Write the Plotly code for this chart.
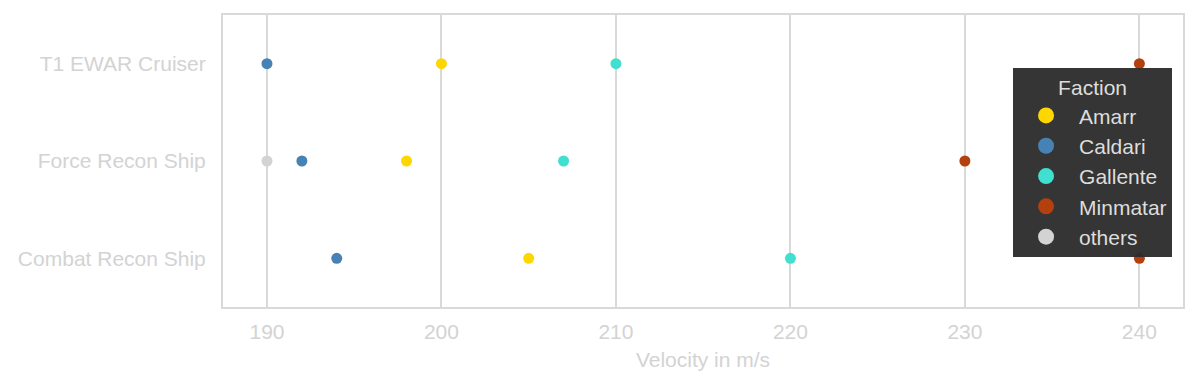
import plotly.graph_objects as go

categories = ["Combat Recon Ship", "Force Recon Ship", "T1 EWAR Cruiser"]
factions = ["Amarr", "Caldari", "Gallente", "Minmatar", "others"]
colors = ["#FFD700", "#4682B4", "#40E0D0", "#B5400F", "#D3D3D3"]

# velocity per faction: list of (ship class, velocity)
amarr_ships = ["T1 EWAR Cruiser", "Force Recon Ship", "Combat Recon Ship"]
amarr_vel = [200, 198, 205]
caldari_ships = ["T1 EWAR Cruiser", "Force Recon Ship", "Combat Recon Ship"]
caldari_vel = [190, 192, 194]
gallente_ships = ["T1 EWAR Cruiser", "Force Recon Ship", "Combat Recon Ship"]
gallente_vel = [210, 207, 220]
minmatar_ships = ["T1 EWAR Cruiser", "Force Recon Ship", "Combat Recon Ship"]
minmatar_vel = [240, 230, 240]
others_ships = ["Force Recon Ship"]
others_vel = [190]

series = [
    (amarr_ships, amarr_vel),
    (caldari_ships, caldari_vel),
    (gallente_ships, gallente_vel),
    (minmatar_ships, minmatar_vel),
    (others_ships, others_vel),
]

xticks = [190, 200, 210, 220, 230, 240]

FONT = "Liberation Sans, Arial, sans-serif"
GRAY = "#d3d3d3"
FS = 21

fig = go.Figure()
for name, color, (ships, vel) in zip(factions, colors, series):
    fig.add_trace(go.Scatter(
        x=vel, y=ships, mode="markers", name=name,
        marker=dict(color=color, size=11, line=dict(width=0)),
        showlegend=False, legendgroup=name,
    ))
# legend entries with larger symbols
for name, color in zip(factions, colors):
    fig.add_trace(go.Scatter(
        x=[None], y=[None], mode="markers", name=name,
        marker=dict(color=color, size=16, line=dict(width=0)),
        showlegend=True, legendgroup=name,
    ))

fig.update_layout(
    width=1200, height=387,
    margin=dict(l=223, r=17, t=15, b=80, autoexpand=False),
    paper_bgcolor="white", plot_bgcolor="white",
    font=dict(family=FONT, size=FS, color=GRAY),
    legend=dict(
        title=dict(text="Faction", side="top center", font=dict(size=FS, color="#dddddd")),
        font=dict(size=FS, color="#dddddd"),
        bgcolor="rgba(45,45,45,0.96)",
        borderwidth=0,
        x=0.9886, xanchor="right", y=0.8185, yanchor="top",
        itemwidth=56,
        traceorder="grouped", tracegroupgap=0,
    ),
)
fig.update_xaxes(
    range=[187.48, 242.5],
    tickvals=xticks, ticktext=[str(t) for t in xticks],
    showgrid=True, gridcolor="#d9d9d9", gridwidth=2,
    showline=True, linecolor="#d9d9d9", linewidth=2, mirror=True,
    zeroline=False, ticks="",
    tickfont=dict(size=FS, color=GRAY),
    ticklabelstandoff=5,
    title=dict(text="Velocity in m/s", font=dict(size=FS, color=GRAY), standoff=10),
)
fig.update_yaxes(
    type="category", categoryorder="array", categoryarray=categories,
    range=[-0.5, 2.5],
    showgrid=False,
    showline=True, linecolor="#d9d9d9", linewidth=2, mirror=True,
    zeroline=False, ticks="",
    tickfont=dict(size=FS, color=GRAY),
    ticklabelstandoff=11,
)
fig.write_html("out.html")
